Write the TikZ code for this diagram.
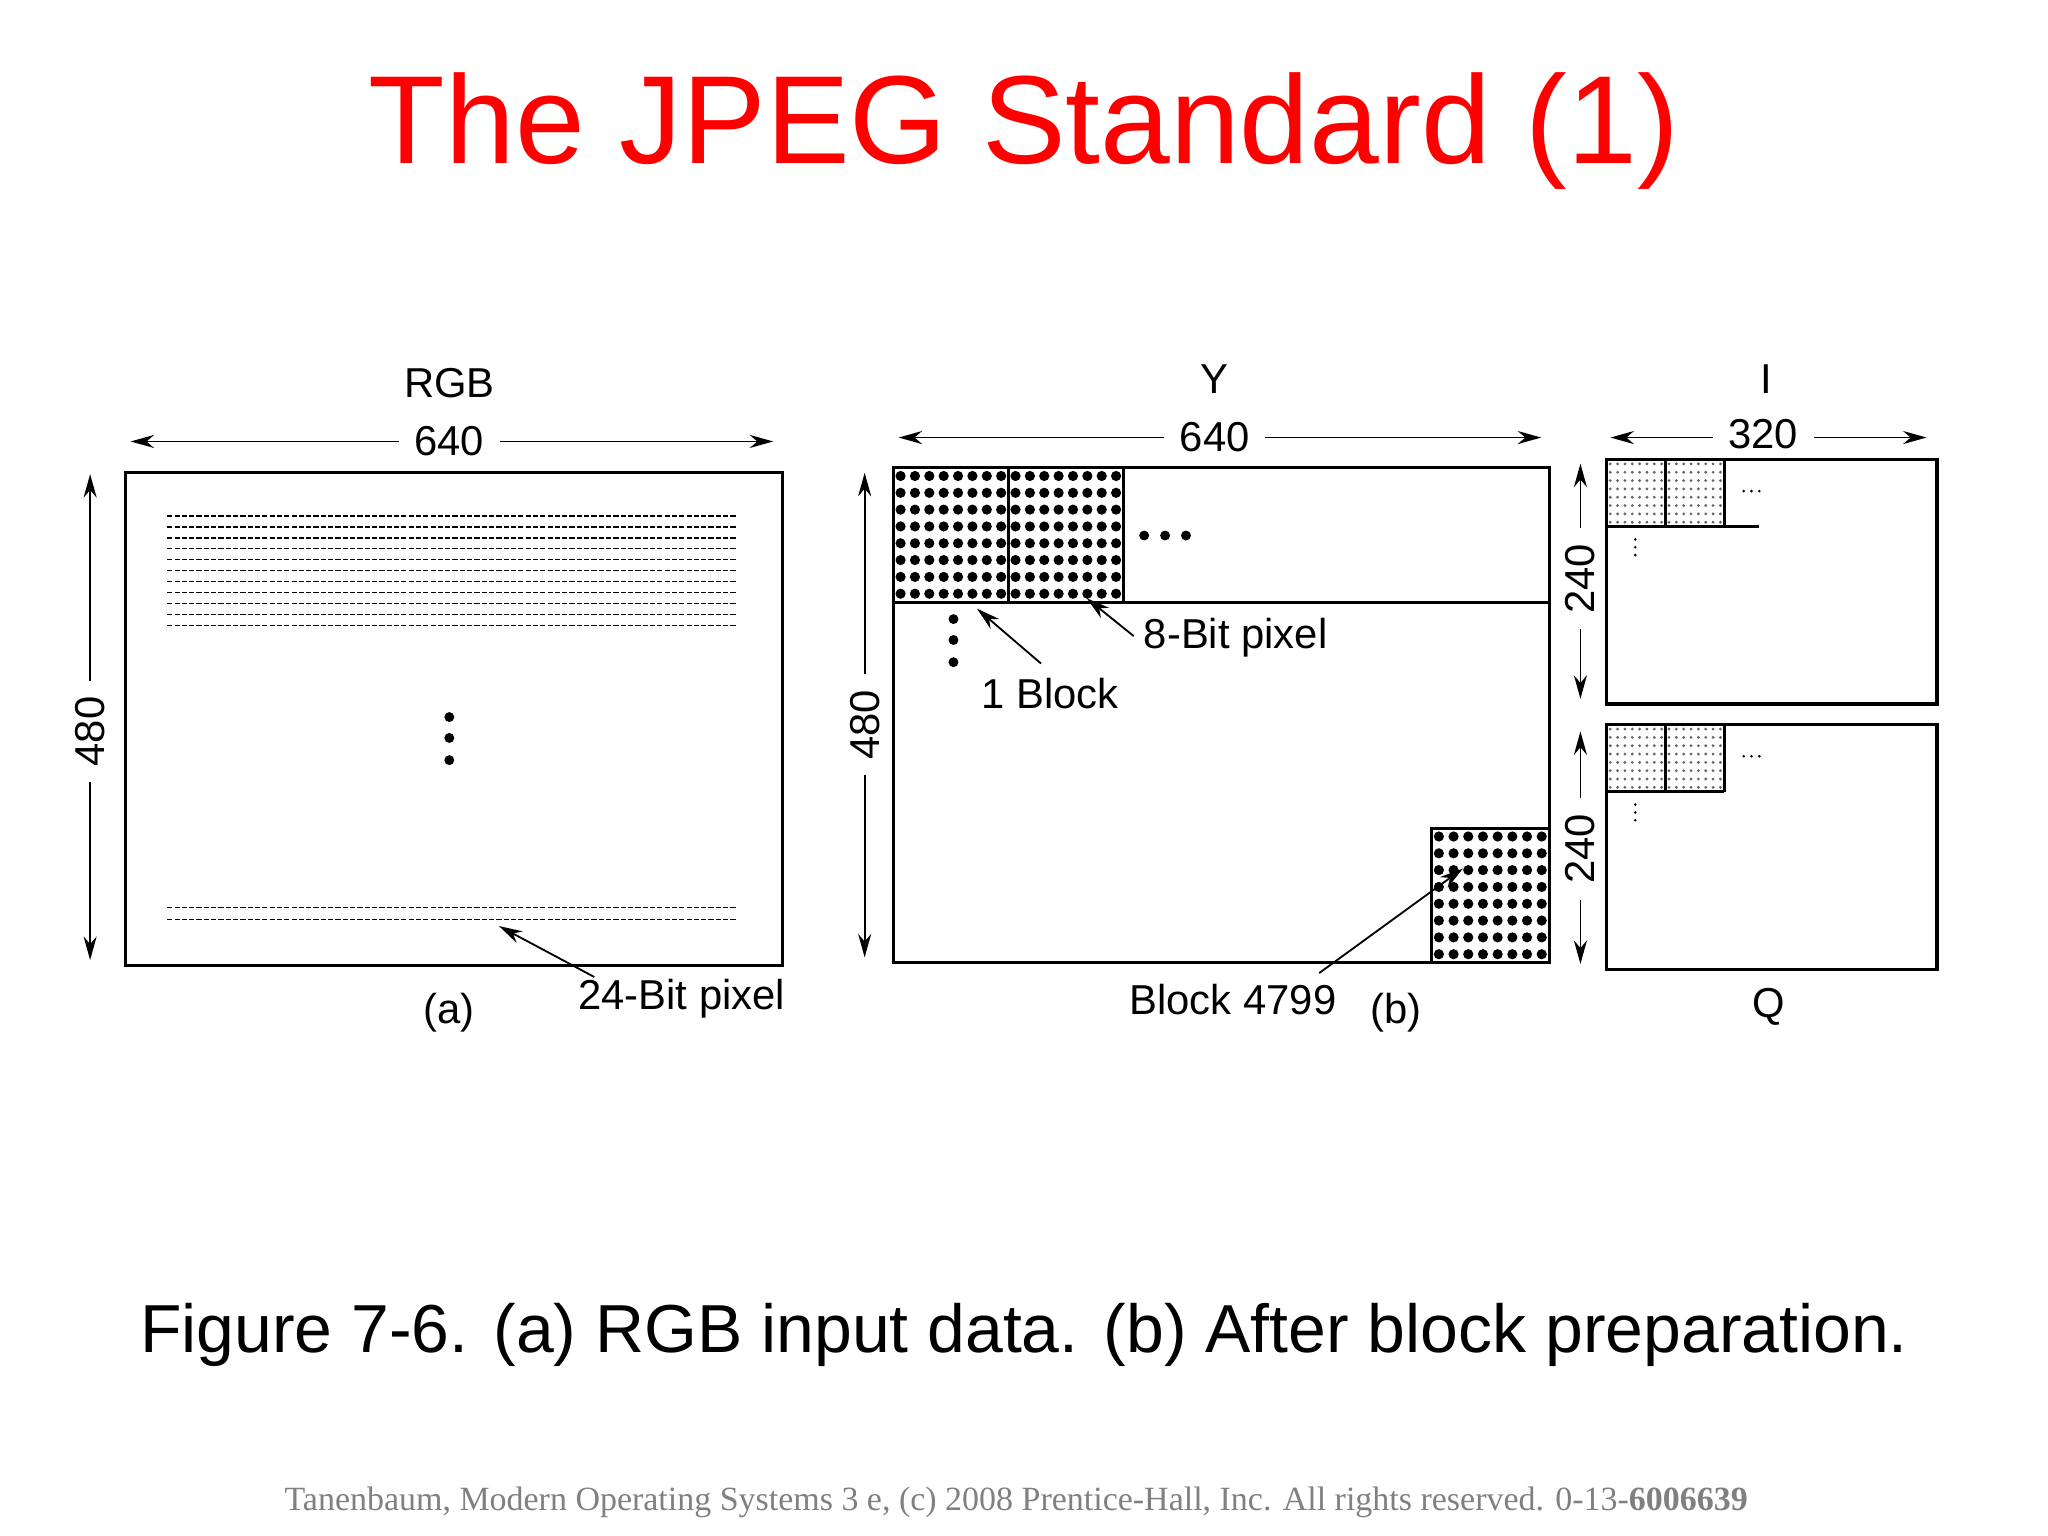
\documentclass[tikz,border=0pt]{standalone}
\usepackage{fontspec}
\setmainfont{Liberation Sans}
\newfontfamily\ser{Liberation Serif}
\usetikzlibrary{arrows.meta}
\newcommand\dotblk[6]{% x0 y0 w h radius color
  \foreach \i in {0,...,7}{\foreach \j in {0,...,7}{
    \fill[#6] ({#1+(\i+0.5)*#3/8},{#2+(\j+0.5)*#4/8}) circle (#5);}}}
\tikzset{
  box/.style={draw=black,line width=1.2pt},
  lbl/.style={font=\fontsize{16}{19}\selectfont,inner sep=2pt},
  dlbl/.style={lbl,fill=white,inner xsep=6pt},
  dim/.style={{Stealth[length=9pt,width=5pt]}-{Stealth[length=9pt,width=5pt]},line width=0.7pt},
  ptr/.style={-{Stealth[length=9pt,width=5pt]},line width=0.7pt},
  dl/.style={line width=0.5pt,dash pattern=on 2pt off 0.8pt},
}
\begin{document}
\begin{tikzpicture}[x=0.5pt,y=-0.5pt]
\useasboundingbox (0,0) rectangle (1568,1176);
\node (title) at (784,100) {\fontsize{48}{50}\selectfont\color{red}The JPEG Standard (1)};
% ---- (a)
\draw[box] (96,362) rectangle (599,739);
\node[lbl] (rgb) at (344,293) {RGB};
\coordinate (wal) at (100,338); \coordinate (war) at (592,338);
\draw[dim] (wal) -- (war);
\node[dlbl] (wa) at (344,338) {640};
\coordinate (hat) at (69,363); \coordinate (hab) at (69,735);
\draw[dim] (hat) -- (hab);
\node[dlbl,rotate=90] (ha) at (69,560) {480};
\foreach \k in {0,...,10} \draw[dl] (128,{395+\k*8.4}) -- (564,{395+\k*8.4});
\draw[dl] (128,695) -- (564,695); \draw[dl] (128,704) -- (564,704);
\foreach \yy in {549,565,582} \fill (344,\yy) circle (3.8);
\node[lbl] (p24) at (522,765) {24-Bit pixel};
\coordinate (p24t) at (382,709);
\draw[ptr] (455,748) -- (p24t);
\node[lbl] (la) at (344,775) {(a)};
% ---- (b) Y
\draw[box] (684,358) rectangle (1186,737);
\draw[box] (684,461) -- (1186,461);
\draw[box] (772,358) -- (772,461);
\draw[box] (860,358) -- (860,461);
\dotblk{684}{358}{88}{103}{3.9}{black}
\dotblk{772}{358}{88}{103}{3.9}{black}
\foreach \xx in {876,892,908} \fill (\xx,410) circle (3.8);
\foreach \yy in {474,490,507} \fill (730,\yy) circle (3.8);
\node[lbl] (yl) at (930,290) {Y};
\coordinate (wbl) at (688,335); \coordinate (wbr) at (1180,335);
\draw[dim] (wbl) -- (wbr);
\node[dlbl] (wb) at (930,335) {640};
\coordinate (hbt) at (662,362); \coordinate (hbb) at (662,733);
\draw[dim] (hbt) -- (hbb);
\node[dlbl,rotate=90] (hb) at (662,555) {480};
\node[lbl] (b1) at (804,531) {1 Block};
\coordinate (b1t) at (748,466);
\draw[ptr] (797,508) -- (b1t);
\node[lbl] (b8) at (946,488) {8-Bit pixel};
\coordinate (b8t) at (832,458);
\draw[ptr] (868,487) -- (b8t);
\draw[box] (1096,634) rectangle (1186,737);
\dotblk{1096}{634}{90}{103}{3.9}{black}
\node[lbl] (b4799) at (944,765) {Block 4799};
\coordinate (b47t) at (1120,665);
\draw[ptr] (1010,745) -- (b47t);
\node[lbl] (lb) at (1069,775) {(b)};
% ---- I
\draw[box] (1230,352) rectangle (1483,539);
\draw[box] (1230,403) -- (1347,403);
\draw[box] (1275,352) -- (1275,403);
\draw[box] (1320,352) -- (1320,403);
\dotblk{1230}{352}{45}{51}{1.2}{black!60}
\dotblk{1275}{352}{45}{51}{1.2}{black!60}
\foreach \xx in {1335,1341,1347} \fill (\xx,376) circle (1.1);
\foreach \yy in {413,419,425} \fill (1252,\yy) circle (1.1);
\node[lbl] (il) at (1352,290) {I};
\coordinate (wil) at (1233,335); \coordinate (wir) at (1475,335);
\draw[dim] (wil) -- (wir);
\node[dlbl] (wi) at (1350,332) {320};
\coordinate (hit) at (1210,355); \coordinate (hib) at (1210,535);
\draw[dim] (hit) -- (hib);
\node[dlbl,rotate=90] (hi) at (1210,443) {240};
% ---- Q
\draw[box] (1230,555) rectangle (1483,742);
\draw[box] (1230,606) -- (1320,606);
\draw[box] (1275,555) -- (1275,606);
\draw[box] (1320,555) -- (1320,606);
\dotblk{1230}{555}{45}{51}{1.2}{black!60}
\dotblk{1275}{555}{45}{51}{1.2}{black!60}
\foreach \xx in {1335,1341,1347} \fill (\xx,579) circle (1.1);
\foreach \yy in {616,622,628} \fill (1252,\yy) circle (1.1);
\coordinate (hqt) at (1210,560); \coordinate (hqb) at (1210,738);
\draw[dim] (hqt) -- (hqb);
\node[dlbl,rotate=90] (hq) at (1210,650) {240};
\node[lbl] (ql) at (1354,771) {Q};
% ---- captions
\node (cap) at (784,1022) {\fontsize{26}{30}\selectfont Figure 7-6. (a) RGB input data. (b) After block preparation.};
\node (foot) at (778,1150) {\ser\fontsize{13}{15}\selectfont\color{black!50}Tanenbaum, Modern Operating Systems 3 e, (c) 2008 Prentice-Hall, Inc. All rights reserved. 0-13-\textbf{6006639}};
\end{tikzpicture}
\end{document}
